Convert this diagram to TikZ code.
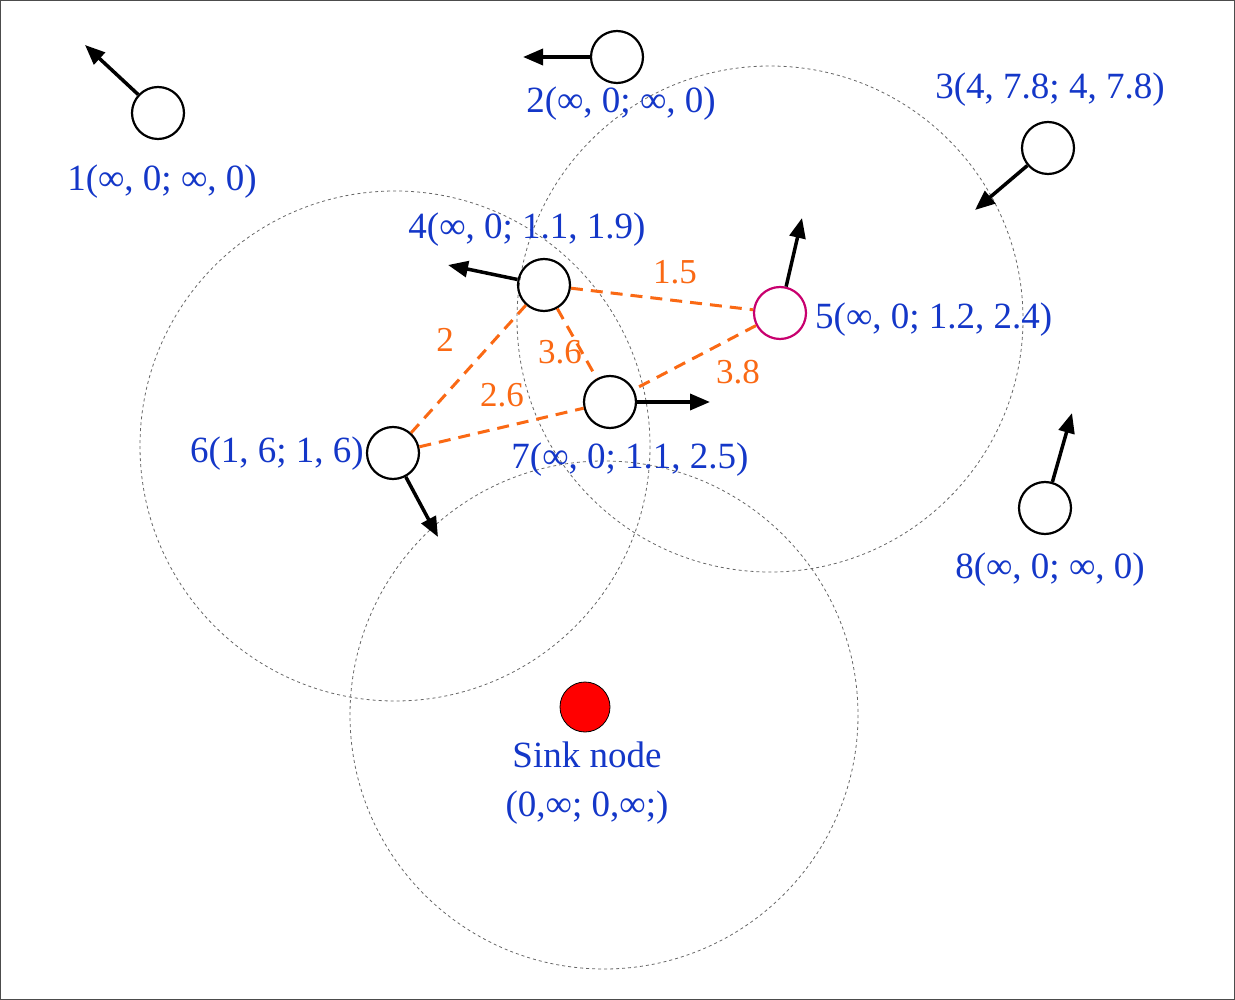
\documentclass[tikz,border=0pt]{standalone}
\usepackage{fontspec}
\setmainfont{Liberation Serif}
\usetikzlibrary{arrows.meta}
\definecolor{lblue}{RGB}{20,55,200}
\definecolor{lorange}{RGB}{250,105,20}
\definecolor{lmag}{RGB}{200,0,110}
\tikzset{
 sn/.style={circle,draw,line width=2.2pt,minimum size=52pt,inner sep=0pt},
 lab/.style={text=lblue,font=\fontsize{37}{40}\selectfont,inner sep=0pt},
 olab/.style={text=lorange,font=\fontsize{35}{38}\selectfont,inner sep=0pt},
 mv/.style={line width=3.5pt,-{Stealth[length=20pt,width=16pt,inset=0pt]}},
 rng/.style={draw=gray!80!black,dashed,line width=0.8pt},
 ed/.style={draw=lorange,line width=3pt,dash pattern=on 12pt off 8pt}
}
\begin{document}
\begin{tikzpicture}[x=1pt,y=-1pt]
\draw[gray!60!black,line width=1pt] (0.5,0.5) rectangle (1234.5,999.5);
\useasboundingbox (0,0) rectangle (1235,1000);
\draw[rng] (395,446) circle (255);
\draw[rng] (770,319) circle (253);
\draw[rng] (604,715) circle (254);
\node[sn] (n1) at (158,113) {};
\node[sn] (n2) at (617,57) {};
\node[sn] (n3) at (1048,148) {};
\node[sn] (n4) at (544,285) {};
\node[sn,draw=lmag] (n5) at (780,313) {};
\node[sn] (n6) at (393,453) {};
\node[sn] (n7) at (610,402) {};
\node[sn] (n8) at (1045,508) {};
\node[circle,draw,fill=red,minimum size=50pt,inner sep=0pt,line width=0.8pt] (sink) at (585,707) {};
\coordinate (a1) at (85,45); \coordinate (a2) at (523,57); \coordinate (a3) at (975,210);
\coordinate (a4) at (448,265); \coordinate (a5) at (802,218); \coordinate (a6) at (438,537);
\coordinate (a7) at (710,402); \coordinate (a8) at (1072,413);
\foreach \i in {1,...,8} {\draw[mv] (n\i) -- (a\i);}
\draw[ed] (n4) -- (n5);
\draw[ed] (n4) -- (n6);
\draw[ed] (n4) -- (n7);
\draw[ed] (n5) -- (n7);
\draw[ed] (n6) -- (n7);
\node[olab] (e45) at (675,272) {1.5};
\node[olab] (e46) at (445,340) {2};
\node[olab] (e47) at (560,352) {3.6};
\node[olab] (e57) at (738,372) {3.8};
\node[olab] (e67) at (502,395) {2.6};
\node[lab] (l1) at (162,182) {1(∞, 0; ∞, 0)};
\node[lab] (l2) at (621,104) {2(∞, 0; ∞, 0)};
\node[lab] (l3) at (1050,90) {3(4, 7.8; 4, 7.8)};
\node[lab] (l4) at (527,230) {4(∞, 0; 1.1, 1.9)};
\node[lab,anchor=west] (l5) at (815,320) {5(∞, 0; 1.2, 2.4)};
\node[lab,anchor=east] (l6) at (364,454) {6(1, 6; 1, 6)};
\node[lab] (l7) at (630,460) {7(∞, 0; 1.1, 2.5)};
\node[lab] (l8) at (1050,570) {8(∞, 0; ∞, 0)};
\node[lab] (ls1) at (587,755) {Sink node};
\node[lab] (ls2) at (587,808) {(0,∞; 0,∞;)};
\end{tikzpicture}
\end{document}
